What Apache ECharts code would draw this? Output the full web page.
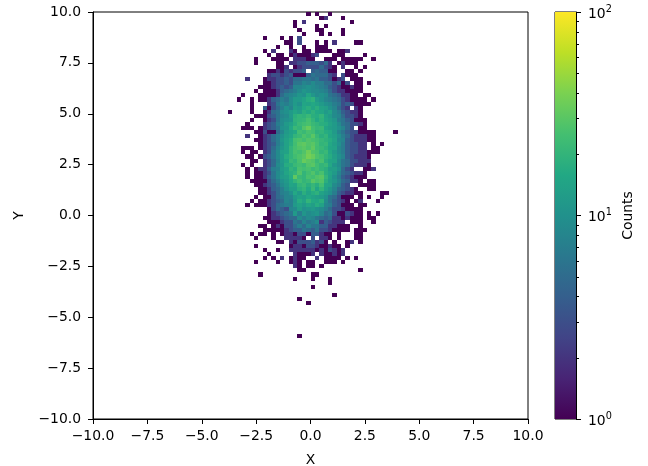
<!DOCTYPE html>
<html>
<head>
<meta charset="utf-8">
<style>
  html, body { margin: 0; padding: 0; background: #fff; }
  #app { width: 648px; height: 466px; }
</style>
<script src="https://cdn.jsdelivr.net/npm/echarts@6/dist/echarts.min.js"></script>
</head>
<body>
<div id="app"></div>
<script>
const tickValues = [-10, -7.5, -5, -2.5, 0, 2.5, 5, 7.5, 10];
const binWidth = 0.2;

// first x bin of each row, rows run from the top of the plot (y = 10) downwards
const rowStart = [
  49, 52, 46, 46, 47, 48, 39, 44, 42, 39,
  40, 37, 37, 42, 40, 40, 35, 39, 38, 37,
  34, 33, 36, 36, 31, 37, 36, 35, 34, 37,
  35, 37, 38, 34, 34, 35, 36, 34, 35, 35,
  35, 36, 37, 38, 38, 37, 36, 35, 40, 40,
  39, 40, 38, 39, 36, 37, 42, 37, 39, 40,
  39, 37, 46, 47, 38, 46, 54, 50, 0, 55,
  47, 49, 0, 0, 0, 0, 0, 0, 0, 47
];

// counts per bin, 0 = empty bin
const rowCounts = [
  [1,0,1,0,0,1],
  [1,2,0,0,0,1],
  [1,0,2,0,0,0,0,0,0,0,0,0,0,1],
  [1,0,0,0,0,1,0,1],
  [1,0,0,0,1,1,0,0,0,0,1],
  [1,0,0,0,1,0,1,0,0,1],
  [1,0,0,0,1,0,1,0,3],
  [1,1,0,3,0,0,0,1,0,1,0,2,0,0,0,0,1,1],
  [1,0,0,1,0,0,1,0,0,1,1,1],
  [1,0,2,0,0,0,2,1,0,1,1,0,1,1,1,1,0,1,1,2],
  [1,0,1,1,0,1,2,1,1,1,2,3,0,0,0,1,1,1,0,0,0,0,1],
  [1,0,0,0,1,1,1,1,0,2,2,2,1,1,0,0,1,1,1,0,1,1,1,1,1,0,0,1],
  [1,0,0,0,0,1,1,0,2,2,3,3,4,4,4,3,5,2,0,1,2,1,1,1],
  [1,1,2,0,1,2,3,3,3,3,5,3,2,1,0,2,0,0,1,0,1],
  [1,1,2,1,3,2,3,3,4,0,4,5,4,4,1,1,0,0,1,1,0,1],
  [2,3,3,2,3,4,1,1,1,4,6,5,5,5,3,2,0,3,1,1,1],
  [2,0,0,0,1,2,2,3,3,4,3,5,5,6,6,5,6,4,4,3,1,2,3,0,1,1,1],
  [1,1,2,3,3,4,3,6,6,8,7,9,7,7,5,5,3,5,1,3,0,1,1,0,1],
  [1,1,1,2,3,4,3,4,8,8,9,10,9,8,7,6,4,3,2,1,1,2,1,1],
  [1,0,1,1,1,2,4,5,6,7,9,11,10,9,9,8,7,5,3,2,2,1,1,1,1],
  [1,0,0,0,1,1,1,1,2,5,7,8,9,11,10,15,11,9,10,9,6,5,4,2,2,1,1,0,1,1],
  [1,0,0,1,0,1,1,2,4,5,7,6,9,12,12,14,17,19,12,10,8,7,6,5,3,2,1,1,1,1,0,1],
  [1,0,0,0,2,3,6,8,7,9,12,10,15,14,16,14,12,10,9,7,6,3,4,3,1,1,1,1],
  [1,0,0,4,1,3,5,7,10,8,13,12,16,18,15,18,14,13,10,8,5,3,2,0,2,1],
  [1,0,0,0,0,1,0,0,1,2,5,6,9,10,12,15,13,18,16,19,16,15,12,14,9,7,4,3,2,2,1],
  [1,1,1,3,4,6,8,9,12,18,20,19,22,18,17,20,14,12,9,8,5,3,3,2,1],
  [1,0,0,1,2,3,6,9,10,11,19,20,21,25,20,16,19,15,13,11,7,6,4,3,1,1,1],
  [1,0,0,0,2,3,4,7,9,12,14,18,22,24,26,22,20,18,17,14,12,9,6,5,3,3,2,1],
  [1,1,1,0,1,2,3,4,6,10,11,16,22,20,28,34,24,21,22,15,13,12,10,8,5,3,0,1,1],
  [1,1,3,1,1,5,8,12,14,16,24,22,26,24,19,20,17,16,12,8,6,4,3,3,1,1,1,1,0,0,0,0,1],
  [2,0,0,1,2,3,5,7,10,13,15,20,22,27,24,30,22,18,20,15,13,10,7,5,3,2,2,2,1,1],
  [1,1,2,3,5,7,11,14,17,25,27,24,28,26,24,21,19,17,14,9,8,4,3,2,2,2,1,1],
  [1,2,3,4,7,10,14,18,24,30,32,28,30,25,20,21,16,13,10,7,4,3,3,2,2,0,1,0,1],
  [1,1,1,0,1,2,3,5,8,11,14,20,25,28,30,27,32,24,22,19,15,14,9,7,4,3,3,2,2,0,1,1],
  [1,0,1,1,0,2,3,6,9,13,14,20,26,24,28,36,28,26,20,22,16,12,9,7,4,3,3,2,2,1,1,1],
  [1,1,0,1,3,4,6,9,12,17,20,24,27,30,38,34,27,24,20,17,13,10,8,4,3,2,2,2,1],
  [1,1,0,2,3,5,8,12,15,22,20,26,34,30,28,22,26,18,15,14,9,6,5,3,3,2,2,2],
  [1,0,1,0,0,2,3,5,9,11,17,18,22,24,22,28,30,24,20,22,16,11,9,6,5,3,2,2,2,1],
  [1,0,1,2,2,4,7,8,12,14,20,18,26,24,26,22,24,20,18,13,13,10,5,3,2,0,0,1,1,2],
  [1,0,1,1,2,3,6,9,11,15,18,20,28,20,24,28,22,26,18,15,12,8,5,4,3,2,2,1],
  [1,0,1,1,2,4,6,9,12,13,17,32,22,20,26,24,28,30,20,14,10,7,4,3,2,1,1,1],
  [1,1,1,1,3,5,7,10,12,16,20,24,20,22,30,26,28,18,13,11,8,5,4,2,2,1,0,1,1],
  [1,1,2,3,4,6,9,11,15,14,20,22,18,21,18,24,15,14,9,7,4,3,0,0,1,1,1,1],
  [1,1,2,4,5,7,10,13,13,18,20,16,22,15,20,14,11,8,5,4,3,2,1,0,0,1,1],
  [1,1,2,3,5,7,8,10,16,12,18,14,17,19,14,12,10,7,4,3,2,2,1,1,0,0,0,0,1,1],
  [1,0,1,1,3,5,6,8,8,12,14,13,16,14,13,12,10,6,5,3,1,1,1,0,1,0,1,0,0,1],
  [1,0,1,1,2,3,4,5,8,7,11,17,14,20,16,15,18,9,6,4,3,2,1,0,1,2,0,0,0,1],
  [1,0,1,1,1,2,3,5,6,7,7,12,14,12,15,13,17,14,8,7,4,3,1,1,1,0,1,1],
  [1,3,5,4,3,8,9,13,10,11,12,10,9,7,5,3,3,2,1,1,1,1],
  [1,2,3,4,5,6,12,7,11,9,10,11,8,5,6,3,1,1,3,2,1,1,0,1,0,1],
  [1,1,2,2,3,4,5,5,9,7,9,8,6,5,4,5,2,2,1,2,1,1,1,0,1,1],
  [1,1,1,2,3,3,6,5,8,6,7,9,2,4,3,2,2,2,0,1,1,1,0,0,1],
  [1,1,0,1,2,1,3,3,5,7,5,8,6,6,4,4,2,2,1,1,1,0,0,1],
  [1,1,1,1,1,2,3,4,4,6,5,4,6,3,3,2,1,1,1,1,0,1,1,1],
  [1,0,1,1,0,1,0,1,2,2,1,3,3,1,4,4,2,1,1,0,1,0,0,0,1,1],
  [1,0,0,0,1,0,0,2,2,2,2,1,0,3,0,2,2,1,0,1,0,0,0,1,1],
  [1,1,0,2,1,3,3,3,4,2,3,1,0,1,0,0,1,2,0,1],
  [1,0,0,0,0,0,0,0,1,2,2,1,3,3,2,1,1,2,1,1,0,1],
  [1,0,0,1,0,0,2,2,2,2,2,2,1,2,1,3,2,1,2],
  [1,0,0,0,0,0,2,1,1,1,2,0,2,1,1,2,1,2],
  [1,0,1,0,2,0,1,2,1,1,0,0,2,0,1,1,1,1,0,1,0,1],
  [1,0,0,0,0,1,0,0,1,2,1,0,1,1,0,0,1,1,1,0,1],
  [2,1,0,1,1,0,1],
  [1,1,0,0,0,0,0,0,0,0,0,0,0,0,1],
  [1,0,0,0,0,0,0,0,0,0,0,0,1,1],
  [1,0,0,0,1,0,0,0,1],
  [1],
  [1],
  [],
  [1],
  [1],
  [1],
  [],
  [],
  [],
  [],
  [],
  [],
  [],
  [1]
];

const viridis = ['#440154', '#482475', '#414487', '#355f8d', '#2a788e', '#21918c', '#22a884', '#44bf70', '#7ad151', '#bddf26', '#fde725'];
const colorbarMinorTicks = [2, 3, 4, 5, 6, 7, 8, 9, 20, 30, 40, 50, 60, 70, 80, 90];

// 二维直方图的格子
const cells = [];
rowCounts.forEach((row, r) => {
  row.forEach((count, k) => {
    if (count > 0) {
      const x = -10 + (rowStart[r] + k) * binWidth;
      const y = 10 - (r + 1) * binWidth;
      cells.push([x, y, Math.log10(count)]);
    }
  });
});

const font = 'DejaVu Sans';
const textColor = '#000';

const formatTick = value => value.toFixed(1).replace('-', '\u2212');

const valueAxis = (name, gridIndex, nameGap, margin) => ({
  type: 'value',
  gridIndex: gridIndex,
  min: tickValues[0],
  max: tickValues[tickValues.length - 1],
  interval: tickValues[1] - tickValues[0],
  name: name,
  nameLocation: 'middle',
  nameGap: nameGap,
  nameTextStyle: { fontFamily: font, fontSize: 13.9, color: textColor },
  axisLine: { show: true, onZero: false, lineStyle: { color: '#000', width: 1 } },
  axisTick: { show: true, length: 5, lineStyle: { color: '#000', width: 1 } },
  axisLabel: {
    fontFamily: font,
    fontSize: 13.9,
    color: textColor,
    margin: margin,
    showMinLabel: true,
    showMaxLabel: true,
    formatter: formatTick
  },
  splitLine: { show: false }
});

const chart = echarts.init(document.getElementById('app'), null, { renderer: 'canvas' });

const option = {
  animation: false,
  backgroundColor: '#fff',
  grid: [
    { left: 93, top: 12, width: 435, height: 407, outerBoundsMode: 'none', show: true, borderColor: '#000', borderWidth: 1, backgroundColor: '#fff' },
    { left: 555, top: 12, width: 21, height: 407, outerBoundsMode: 'none', show: true, borderColor: '#000', borderWidth: 1, backgroundColor: '#fff' }
  ],
  xAxis: [
    valueAxis('X', 0, 34, 10),
    { type: 'value', gridIndex: 1, min: 0, max: 1, show: false }
  ],
  yAxis: [
    valueAxis('Y', 0, 67, 12),
    {
      type: 'log',
      logBase: 10,
      gridIndex: 1,
      position: 'right',
      min: 1,
      max: 100,
      name: 'Counts',
      nameLocation: 'middle',
      nameRotate: 90,
      nameGap: 45,
      nameTextStyle: { fontFamily: font, fontSize: 13.9, color: textColor },
      axisLine: { show: true, onZero: false, lineStyle: { color: '#000', width: 1 } },
      axisTick: { show: true, length: 5, lineStyle: { color: '#000', width: 1 } },
      splitLine: { show: false },
      minorTick: { show: false },
      axisLabel: {
        margin: 12,
        showMinLabel: true,
        showMaxLabel: true,
        formatter: value => '{b|10}{s|' + Math.round(Math.log10(value)) + '}',
        rich: {
          b: { fontFamily: font, fontSize: 13.9, color: textColor, padding: [4, 0, 0, 0] },
          s: { fontFamily: font, fontSize: 9.7, color: textColor, padding: [0, 0, 6, 0] }
        }
      }
    }
  ],
  visualMap: {
    show: false,
    seriesIndex: 0,
    dimension: 2,
    min: 0,
    max: 2,
    inRange: { color: viridis }
  },
  series: [
    {
      type: 'custom',
      xAxisIndex: 0,
      yAxisIndex: 0,
      data: cells,
      encode: { x: 0, y: 1 },
      renderItem: (params, api) => {
        const x = api.value(0);
        const y = api.value(1);
        const p0 = api.coord([x, y + binWidth]);
        const p1 = api.coord([x + binWidth, y]);
        const left = Math.round(p0[0]);
        const top = Math.round(p0[1]);
        return {
          type: 'rect',
          shape: { x: left, y: top, width: Math.round(p1[0]) - left, height: Math.round(p1[1]) - top },
          style: { fill: api.visual('color') }
        };
      }
    },
    {
      // 色条
      type: 'custom',
      xAxisIndex: 1,
      yAxisIndex: 1,
      data: [[0, 100, 1, 1]],
      encode: { x: 0, y: 1 },
      renderItem: (params, api) => {
        const p0 = api.coord([api.value(0), api.value(1)]);
        const p1 = api.coord([api.value(2), api.value(3)]);
        return {
          type: 'rect',
          shape: { x: p0[0], y: p0[1], width: p1[0] - p0[0], height: p1[1] - p0[1] },
          style: {
            fill: new echarts.graphic.LinearGradient(0, 1, 0, 0, viridis.map((color, k) => ({
              offset: k / (viridis.length - 1),
              color: color
            })))
          }
        };
      }
    },
    {
      // 色条的次刻度
      type: 'custom',
      xAxisIndex: 1,
      yAxisIndex: 1,
      data: colorbarMinorTicks.map(v => [1, v]),
      encode: { x: 0, y: 1 },
      renderItem: (params, api) => {
        const p = api.coord([api.value(0), api.value(1)]);
        const y = Math.round(p[1]) + 0.5;
        return {
          type: 'line',
          shape: { x1: p[0], y1: y, x2: p[0] + 3, y2: y },
          style: { stroke: '#000', lineWidth: 1 }
        };
      }
    }
  ]
};

chart.setOption(option);
</script>
</body>
</html>
